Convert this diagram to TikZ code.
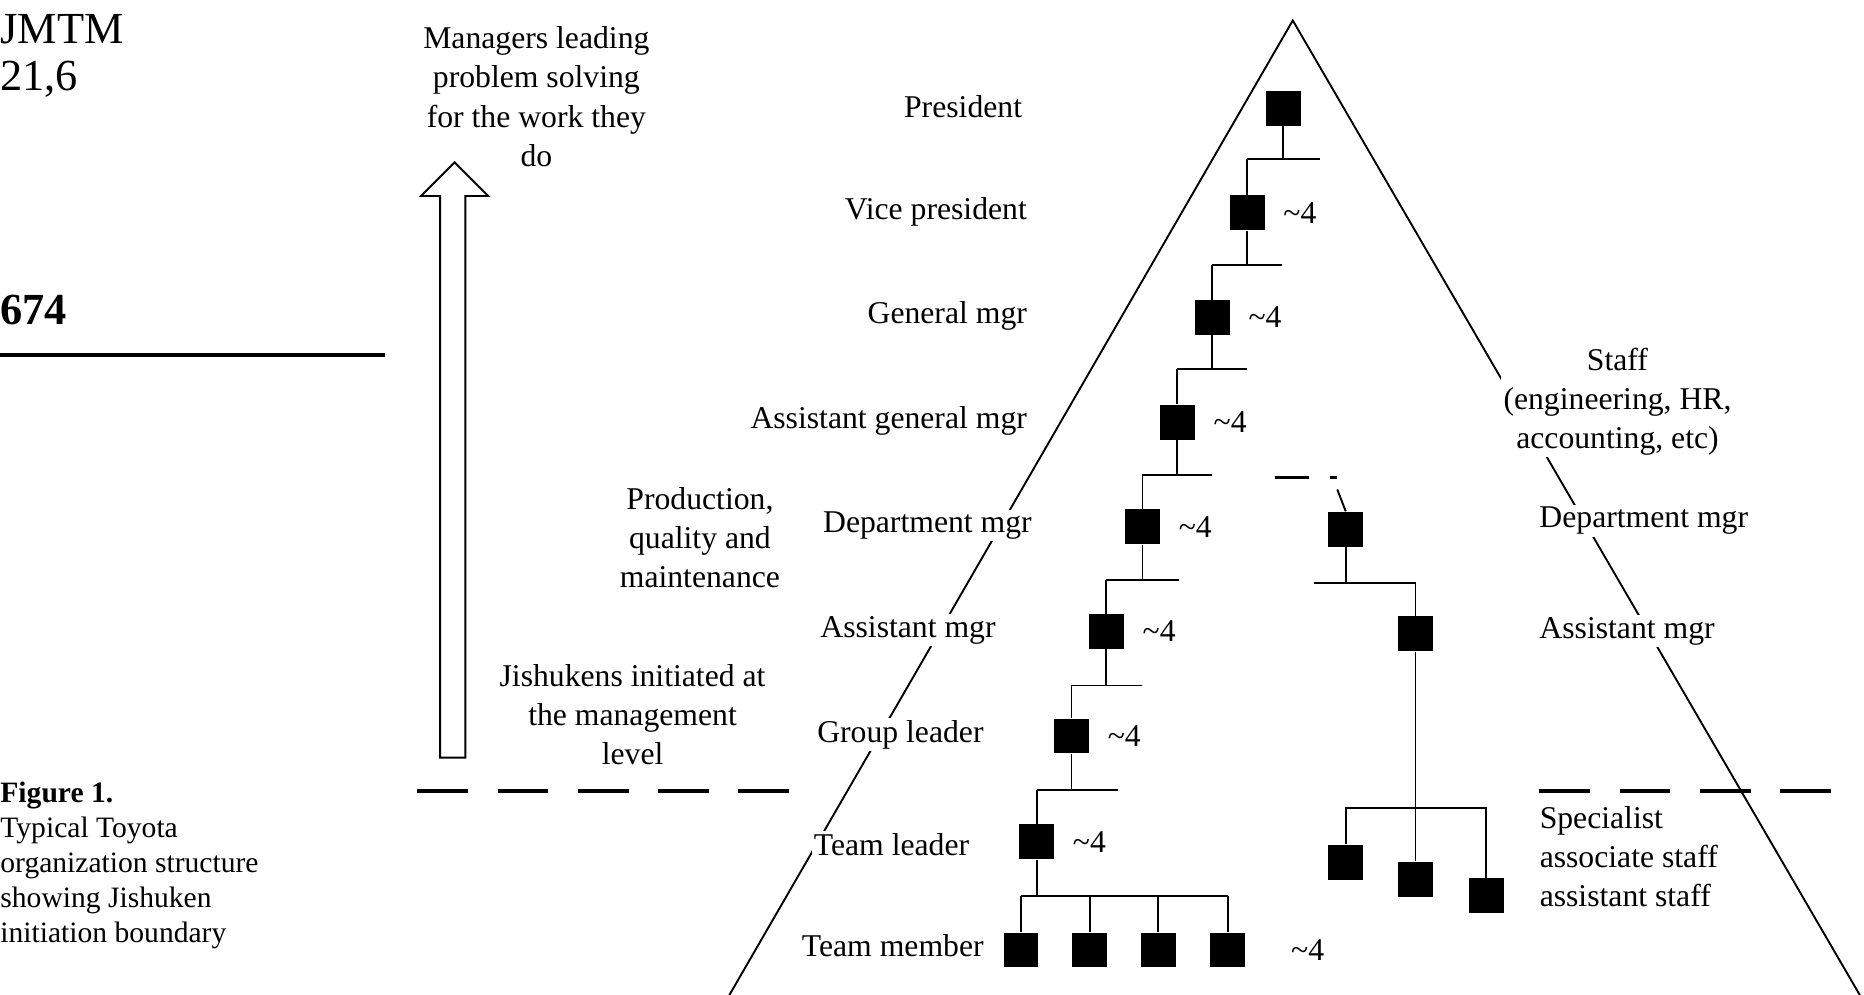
\documentclass[tikz,border=0pt]{standalone}
\usepackage{fontspec}
\setmainfont{Liberation Serif}
\begin{document}
\begin{tikzpicture}[x=0.02cm,y=-0.02cm,font=\fontsize{15}{18.5}\selectfont,
 bx/.style={fill=black,minimum size=29\pgflinewidth,inner sep=0,minimum width=0.58cm,minimum height=0.58cm},
 lbl/.style={fill=white,inner sep=1pt},
 ln/.style={line width=0.9pt},
 dl/.style={line width=2pt,dash pattern=on 24pt off 14pt}]
\useasboundingbox (0,0) rectangle (1550,827);
% triangle
\draw[ln] (1075,17) -- (605,830) -- (1548,830) -- cycle;
% left text
\node[anchor=north west,inner sep=0,font=\fontsize{21}{22}\selectfont,align=left] (jm) at (0,12) {JMTM\\21,6};
\node[anchor=west,inner sep=0,font=\fontsize{21}{22}\selectfont\bfseries] (pg) at (0,258) {674};
\draw[line width=2pt] (0,295) -- (320,295);
\node[anchor=north west,inner sep=0,align=left,font=\fontsize{14}{16.5}\selectfont] (cap) at (0,650) {\textbf{Figure 1.}\\Typical Toyota\\organization structure\\showing Jishuken\\initiation boundary};
\draw[ln] (0,832) -- (322,832);
% arrow
\draw[ln,fill=white] (366,630) -- (366,163) -- (350,163) -- (378,135) -- (406,163) -- (387,163) -- (387,630) -- cycle;
\node[align=center,anchor=north,inner sep=0] (mg) at (446,22) {Managers leading\\problem solving\\for the work they\\do};
% dashed boundary
\draw[dl] (347,658) -- (675,658);
\draw[dl] (1280,658) -- (1545,658);
\draw[line width=1.5pt,dash pattern=on 16pt off 10pt] (1060,397) -- (1112,397);
% side labels
\node[lbl,align=center] (pq) at (582,447) {Production,\\quality and\\maintenance};
\node[lbl,align=center] (ji) at (526,594) {Jishukens initiated at\\the management\\level};
\node[lbl,align=center] (st) at (1345,334) {Staff\\(engineering, HR,\\accounting, etc)};
\node[lbl,anchor=west] (rd) at (1278,433) {Department mgr};
\node[lbl,anchor=west] (ra) at (1278,525) {Assistant mgr};
\node[anchor=north west,inner sep=0,align=left] (sp) at (1280,670) {Specialist\\associate staff\\assistant staff};
% level labels
\node[lbl,anchor=east] at (852,89) {President};
\node[lbl,anchor=east] at (856,176) {Vice president};
\node[lbl,anchor=east] at (856,263) {General mgr};
\node[lbl,anchor=east] at (856,350) {Assistant general mgr};
\node[lbl,anchor=east] at (860,437) {Department mgr};
\node[lbl,anchor=east] at (830,524) {Assistant mgr};
\node[lbl,anchor=east] at (820,611) {Group leader};
\node[lbl,anchor=east] at (808,702) {Team leader};
\node[lbl,anchor=east] at (820,786) {Team member};
% boxes
\node[bx] (p) at (1067,90) {};
\node[bx] (v) at (1037,177) {};
\node[bx] (g) at (1008,264) {};
\node[bx] (ag) at (979,351) {};
\node[bx] (d) at (950,438) {};
\node[bx] (a) at (920,525) {};
\node[bx] (gl) at (891,612) {};
\node[bx] (tl) at (862,700) {};
\node[bx] (t1) at (849,790) {};
\node[bx] (t2) at (906,790) {};
\node[bx] (t3) at (963,790) {};
\node[bx] (t4) at (1021,790) {};
\foreach \n in {v,g,ag,d,a,gl,tl} \node[anchor=west,inner sep=0] at ([xshift=0.3cm]\n.east) {\textasciitilde4};
\node[anchor=west,inner sep=0] at ([xshift=0.75cm]t4.east) {\textasciitilde4};
% tree
\draw[ln] (p.south) -- (1067,132) (1037,132) -- (1098,132) (1037,132) -- (v.north);
\draw[ln] (v.south) -- (1037,220) (1008,220) -- (1066,220) (1008,220) -- (g.north);
\draw[ln] (g.south) -- (1008,307) (979,307) -- (1037,307) (979,307) -- (ag.north);
\draw[ln] (ag.south) -- (979,395) (950,395) -- (1008,395) (950,395) -- (d.north);
\draw[ln] (d.south) -- (950,482) (920,482) -- (980,482) (920,482) -- (a.north);
\draw[ln] (a.south) -- (920,570) (891,570) -- (950,570) (891,570) -- (gl.north);
\draw[ln] (gl.south) -- (891,657) (862,657) -- (930,657) (862,657) -- (tl.north);
\draw[ln] (tl.south) -- (862,745) (849,745) -- (1021,745);
\foreach \n/\x in {t1/849,t2/906,t3/963,t4/1021} \draw[ln] (\x,745) -- (\n.north);
% right branch
\node[bx] (sd) at (1119,440) {};
\node[bx] (sa) at (1177,527) {};
\node[bx] (s1) at (1119,717) {};
\node[bx] (s2) at (1177,731) {};
\node[bx] (s3) at (1236,745) {};
\draw[ln] (1112,407) -- (sd.north);
\draw[ln] (sd.south) -- (1119,485) (1093,485) -- (1177,485) -- (sa.north);
\draw[ln] (sa.south) -- (s2.north);
\draw[ln] (s1.north) -- (1119,672) -- (1236,672) -- (s3.north);
\end{tikzpicture}
\end{document}
